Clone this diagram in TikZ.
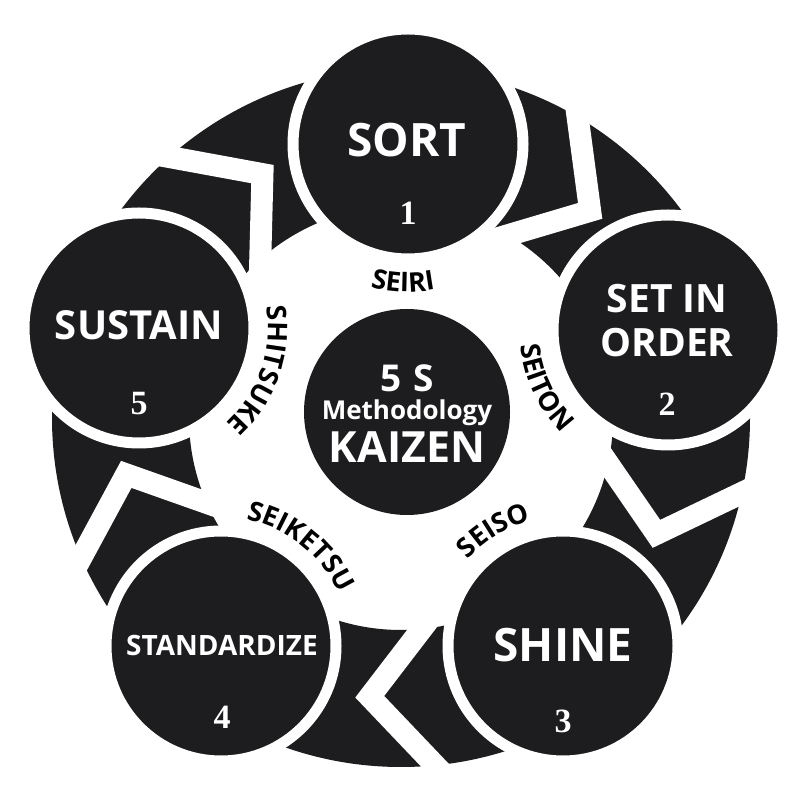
\documentclass[tikz,border=0pt]{standalone}
\usepackage{fontspec}
\usetikzlibrary{calc,decorations.text}
\newfontfamily\osans{Open Sans}
\newfontfamily\serifnum{Liberation Serif}
\definecolor{ink}{RGB}{29,28,30}
\newcommand\lblfont{\osans\bfseries\fontsize{27pt}{27pt}\selectfont}
\begin{document}
\begin{tikzpicture}[x=1pt,y=1pt,
  disc/.style={circle, draw=white, line width=11pt, fill=ink, minimum size=230pt, inner sep=0pt},
  hubdisc/.style={circle, fill=ink, minimum size=206pt, inner sep=0pt},
  gapline/.style={draw=white, line width=22pt, line join=miter, miter limit=20},
  title/.style={text=white, font=\osans\bfseries\fontsize{#1}{#1}\selectfont, inner sep=0pt, anchor=base},
  num/.style={text=white, font=\serifnum\bfseries\fontsize{34pt}{34pt}\selectfont, inner sep=0pt, anchor=base},
  arclabel/.style={decorate, decoration={text along path, text align=center, text={|\lblfont|#1}}, text=ink}
]
\useasboundingbox (0,0) rectangle (800,800);
\fill[white] (0,0) rectangle (800,800);
\coordinate (C) at (401,382);
% ring
\fill[ink, even odd rule] (C) circle[radius=349pt] (C) circle[radius=212pt];
% chevron gaps
\foreach \k in {0,...,4}{
  \pgfmathsetmacro\th{47.6-72*\k}
  \pgfmathsetmacro\tb{\th+12}
  \coordinate (gv) at ($(C)+(\th:280.5pt)$);
  \coordinate (go) at ($(C)+(\tb:349pt)$);
  \coordinate (gi) at ($(C)+(\tb:212pt)$);
  \draw[gapline] ($(gv)!1.5!(go)$) -- (gv) -- ($(gv)!1.5!(gi)$);
}
% circles
\node[disc] (c1) at (408,656) {};
\node[disc] (c2) at (668,470) {};
\node[disc] (c3) at (563,154) {};
\node[disc] (c4) at (221,154) {};
\node[disc] (c5) at (139,472) {};
\node[hubdisc] (hub) at (407,388) {};
% titles
\node[title=46pt] (t1) at (407,643) {SORT};
\node[num] (n1) at (408,575) {1};
\node[title=39pt] (t2a) at (667,487) {SET IN};
\node[title=39pt] (t2b) at (667,443) {ORDER};
\node[num] (n2) at (667,384) {2};
\node[title=46pt] (t3) at (563,138) {SHINE};
\node[num] (n3) at (563,67) {3};
\node[title=28pt] (t4) at (222,144) {STANDARDIZE};
\node[num] (n4) at (222,71) {4};
\node[title=40pt] (t5) at (139,460) {SUSTAIN};
\node[num] (n5) at (139,385) {5};
\node[title=37pt] (h1) at (407,408) {5\,\,S};
\node[title=26pt] (h2) at (407,380) {Methodology};
\node[title=43pt] (h3) at (407,337) {KAIZEN};
% arc labels
\path[arclabel=SEIRI] ($(c1)+(-132:148pt)$) arc[start angle=-132, end angle=-52, radius=148pt];
\path[arclabel=SEITON] ($(c2)+(165:148pt)$) arc[start angle=165, end angle=245, radius=148pt];
\path[arclabel=SEISO] ($(c3)+(161:129pt)$) arc[start angle=161, end angle=81, radius=129pt];
\path[arclabel=SEIKETSU] ($(c4)+(101.5:129pt)$) arc[start angle=101.5, end angle=1.5, radius=129pt];
\path[arclabel=SHITSUKE] ($(c5)+(31:129pt)$) arc[start angle=31, end angle=-69, radius=129pt];
\end{tikzpicture}
\end{document}
